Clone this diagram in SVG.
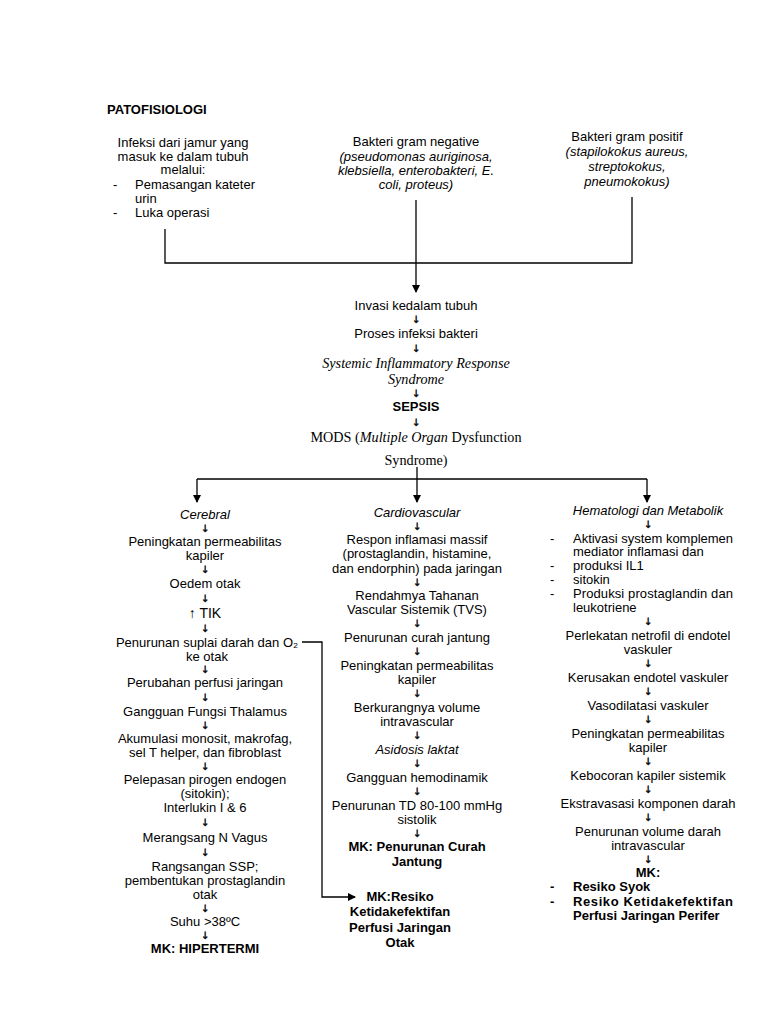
<svg xmlns="http://www.w3.org/2000/svg" width="768" height="1024" viewBox="0 0 768 1024">
<defs>
<marker id="ah" markerWidth="8" markerHeight="8" refX="7" refY="4" orient="auto" markerUnits="userSpaceOnUse">
<path d="M0,0 L8,4 L0,8 Z" fill="#000"/>
</marker>
<style>
text{font-family:"Liberation Sans",Arial,sans-serif;font-size:13px;fill:#000}
.c{text-anchor:middle}
.i{font-style:italic}
.b{font-weight:bold}
.tr{font-family:"Liberation Serif","Times New Roman",serif;font-size:14.2px}
.ar{font-family:"DejaVu Sans","Liberation Sans",sans-serif;font-size:10px;stroke:#000;stroke-width:0.4}
.ln{stroke:#000;stroke-width:1.3;fill:none}
</style>
</defs>
<rect width="768" height="1024" fill="#fff"/>

<text x="107" y="114" class="b" style="font-size:13px">PATOFISIOLOGI</text>

<g id="src-jamur">
<text x="183" y="147" class="c">Infeksi dari jamur yang</text>
<text x="183" y="161" class="c">masuk ke dalam tubuh</text>
<text x="183" y="174" class="c">melalui:</text>
<text x="113" y="189">-</text><text x="135" y="189">Pemasangan  kateter</text>
<text x="135" y="203">urin</text>
<text x="113" y="217">-</text><text x="135" y="217">Luka operasi</text>
</g>

<g id="src-negatif">
<text x="416" y="146" class="c">Bakteri gram negative</text>
<text x="416" y="161" class="c i">(pseudomonas auriginosa,</text>
<text x="416" y="175" class="c i">klebsiella, enterobakteri, E.</text>
<text x="416" y="189" class="c i">coli, proteus)</text>
</g>

<g id="src-positif">
<text x="627" y="141" class="c">Bakteri gram positif</text>
<text x="627" y="156" class="c i">(stapilokokus aureus,</text>
<text x="627" y="171" class="c i">streptokokus,</text>
<text x="627" y="186" class="c i">pneumokokus)</text>
</g>

<g id="chain">
<text x="416" y="310" class="c">Invasi kedalam tubuh</text>
<text x="416" y="323" class="c ar">↓</text>
<text x="416" y="338" class="c">Proses infeksi bakteri</text>
<text x="416" y="352" class="c ar">↓</text>
<text x="416" y="368" class="c i tr">Systemic Inflammatory Response</text>
<text x="416" y="384" class="c i tr">Syndrome</text>
<text x="416" y="397" class="c ar">↓</text>
<text x="416" y="411" class="c b">SEPSIS</text>
<text x="416" y="425.5" class="c ar">↓</text>
<text x="416" y="442" class="c tr">MODS (<tspan font-style="italic">Multiple Organ</tspan> Dysfunction</text>
<text x="416" y="465" class="c tr">Syndrome)</text>
</g>

<g id="cerebral">
<text x="205" y="519" class="c i">Cerebral</text>
<text x="205" y="531.5" class="c ar">↓</text>
<text x="205" y="546" class="c">Peningkatan permeabilitas</text>
<text x="205" y="560" class="c">kapiler</text>
<text x="205" y="573" class="c ar">↓</text>
<text x="205" y="588" class="c">Oedem otak</text>
<text x="205" y="602" class="c ar">↓</text>
<text x="205" y="618" class="c" style="font-size:14px">↑ TIK</text>
<text x="205" y="631.5" class="c ar">↓</text>
<text x="207" y="647" class="c">Penurunan suplai darah dan O₂</text>
<text x="207" y="661" class="c">ke otak</text>
<text x="205" y="673" class="c ar">↓</text>
<text x="205" y="687" class="c">Perubahan perfusi jaringan</text>
<text x="205" y="700.5" class="c ar">↓</text>
<text x="205" y="716" class="c">Gangguan Fungsi Thalamus</text>
<text x="205" y="728.5" class="c ar">↓</text>
<text x="205" y="743" class="c">Akumulasi monosit, makrofag,</text>
<text x="205" y="757" class="c">sel T helper, dan fibroblast</text>
<text x="205" y="769.5" class="c ar">↓</text>
<text x="205" y="784" class="c">Pelepasan pirogen endogen</text>
<text x="205" y="798" class="c">(sitokin);</text>
<text x="205" y="812" class="c">Interlukin I &amp; 6</text>
<text x="205" y="826" class="c ar">↓</text>
<text x="205" y="842" class="c">Merangsang N Vagus</text>
<text x="205" y="855.5" class="c ar">↓</text>
<text x="205" y="871" class="c">Rangsangan SSP;</text>
<text x="205" y="885" class="c">pembentukan prostaglandin</text>
<text x="205" y="899" class="c">otak</text>
<text x="205" y="911.5" class="c ar">↓</text>
<text x="205" y="926" class="c">Suhu &gt;38ºC</text>
<text x="205" y="938.5" class="c ar">↓</text>
<text x="205" y="953" class="c b">MK: HIPERTERMI</text>
</g>

<g id="cardio">
<text x="417" y="517" class="c i">Cardiovascular</text>
<text x="417" y="529.5" class="c ar">↓</text>
<text x="417" y="544" class="c">Respon inflamasi massif</text>
<text x="417" y="558" class="c">(prostaglandin, histamine,</text>
<text x="417" y="573" class="c">dan endorphin) pada jaringan</text>
<text x="417" y="585.5" class="c ar">↓</text>
<text x="417" y="600" class="c">Rendahmya Tahanan</text>
<text x="417" y="614" class="c">Vascular Sistemik (TVS)</text>
<text x="417" y="627" class="c ar">↓</text>
<text x="417" y="642" class="c">Penurunan curah jantung</text>
<text x="417" y="655" class="c ar">↓</text>
<text x="417" y="670" class="c">Peningkatan permeabilitas</text>
<text x="417" y="684" class="c">kapiler</text>
<text x="417" y="697" class="c ar">↓</text>
<text x="417" y="712" class="c">Berkurangnya volume</text>
<text x="417" y="726" class="c">intravascular</text>
<text x="417" y="739" class="c ar">↓</text>
<text x="417" y="754" class="c i">Asidosis laktat</text>
<text x="417" y="767" class="c ar">↓</text>
<text x="417" y="782" class="c">Gangguan hemodinamik</text>
<text x="417" y="795" class="c ar">↓</text>
<text x="417" y="810" class="c">Penurunan TD 80-100 mmHg</text>
<text x="417" y="824" class="c">sistolik</text>
<text x="417" y="836.5" class="c ar">↓</text>
<text x="417" y="851" class="c b">MK: Penurunan Curah</text>
<text x="417" y="866" class="c b">Jantung</text>
</g>

<g id="mk-otak">
<text x="400" y="901" class="c b">MK:Resiko</text>
<text x="400" y="916" class="c b">Ketidakefektifan</text>
<text x="400" y="932" class="c b">Perfusi Jaringan</text>
<text x="400" y="947" class="c b">Otak</text>
</g>

<g id="hemato">
<text x="648" y="515" class="c i">Hematologi dan Metabolik</text>
<text x="648" y="528" class="c ar">↓</text>
<text x="550" y="543">-</text><text x="573" y="543" textLength="160" lengthAdjust="spacing">Aktivasi system komplemen</text>
<text x="573" y="556">mediator inflamasi dan</text>
<text x="550" y="570">-</text><text x="573" y="570">produksi IL1</text>
<text x="550" y="584">-</text><text x="573" y="584">sitokin</text>
<text x="550" y="598">-</text><text x="573" y="598" textLength="160" lengthAdjust="spacing">Produksi prostaglandin dan</text>
<text x="573" y="612">leukotriene</text>
<text x="648" y="625" class="c ar">↓</text>
<text x="648" y="640" class="c">Perlekatan netrofil di endotel</text>
<text x="648" y="654" class="c">vaskuler</text>
<text x="648" y="667" class="c ar">↓</text>
<text x="648" y="682" class="c">Kerusakan endotel vaskuler</text>
<text x="648" y="695" class="c ar">↓</text>
<text x="648" y="710" class="c">Vasodilatasi vaskuler</text>
<text x="648" y="723" class="c ar">↓</text>
<text x="648" y="738" class="c">Peningkatan permeabilitas</text>
<text x="648" y="752" class="c">kapiler</text>
<text x="648" y="765" class="c ar">↓</text>
<text x="648" y="780" class="c">Kebocoran kapiler sistemik</text>
<text x="648" y="793" class="c ar">↓</text>
<text x="648" y="808" class="c">Ekstravasasi komponen darah</text>
<text x="648" y="821" class="c ar">↓</text>
<text x="648" y="836" class="c">Penurunan volume darah</text>
<text x="648" y="850" class="c">intravascular</text>
<text x="648" y="862.5" class="c ar">↓</text>
<text x="648" y="877" class="c b">MK:</text>
<text x="550" y="891" class="b">-</text><text x="573" y="891" class="b">Resiko Syok</text>
<text x="550" y="906" class="b">-</text><text x="573" y="906" class="b" textLength="160" lengthAdjust="spacing">Resiko Ketidakefektifan</text>
<text x="573" y="920" class="b">Perfusi Jaringan Perifer</text>
</g>

<g id="connectors">
<path class="ln" d="M165,229 V263 H632 V197"/>
<path class="ln" d="M416,200 V292" marker-end="url(#ah)"/>
<path class="ln" d="M417,467 V479"/>
<path class="ln" d="M197,479 H647"/>
<path class="ln" d="M197,479 V502" marker-end="url(#ah)"/>
<path class="ln" d="M417,479 V502" marker-end="url(#ah)"/>
<path class="ln" d="M647,479 V502" marker-end="url(#ah)"/>
<path class="ln" d="M302,642 H322 V897 H355" marker-end="url(#ah)"/>
</g>
</svg>
